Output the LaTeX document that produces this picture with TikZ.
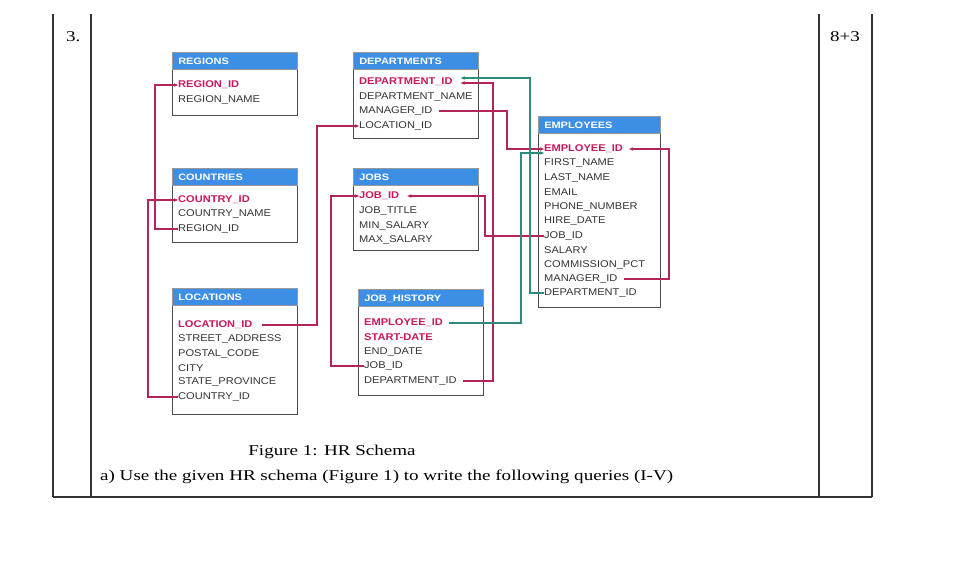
\documentclass[tikz,border=0pt]{standalone}
\usepackage{fontspec}
\setmainfont{Liberation Serif}[FakeStretch=1.27]
\newfontfamily\arl{Liberation Sans}[FakeStretch=1.13]
\newfontfamily\arlh{Liberation Sans}[FakeStretch=1.18]
\usetikzlibrary{arrows.meta,calc}
\definecolor{crim}{HTML}{B3245A}
\definecolor{tealc}{HTML}{2E8B7C}
\definecolor{hdrb}{HTML}{3D8FE6}
\definecolor{keyc}{HTML}{C8185E}
\tikzset{
 tbox/.style={draw=black!70,line width=0.8pt,anchor=north west,inner sep=0,fill=white},
 hdr/.style={fill=hdrb,draw=black!40,line width=0.5pt,anchor=north west,inner ysep=0,inner xsep=6pt,text=white,font=\arlh\bfseries\fontsize{9.3}{10}\selectfont,align=left,text depth=0pt},
 fld/.style={anchor=west,inner sep=0,font=\arl\fontsize{9.8}{10}\selectfont,text=black!80},
 key/.style={fld,text=keyc,font=\arl\bfseries\fontsize{9.8}{10}\selectfont},
 rel/.style={draw=crim,line width=1.1pt,-{Stealth[length=4pt,width=3.5pt]}},
 relt/.style={draw=tealc,line width=1.1pt,-{Stealth[length=4pt,width=3.5pt]}},
 frm/.style={line width=1.3pt,black!80},
 captxt/.style={anchor=base west,inner sep=0,font=\fontsize{15}{17}\selectfont}
}
\newcommand{\tbl}[6]{% name x y w h title
 \node[tbox,minimum width=#4,minimum height=#5] (#1) at (#2,#3) {};
 \node[hdr,minimum width=#4,minimum height=17,text width=#4-12pt] (#1H) at (#2,#3) {#6};}
\begin{document}
\begin{tikzpicture}[x=1pt,y=-1pt]
\useasboundingbox (0,0) rectangle (965,584);
% frame
\draw[frm] (53,14) coordinate (fa) -- (53,497) coordinate (fb);
\draw[frm] (91,14) -- (91,497);
\draw[frm] (819,14) -- (819,497);
\draw[frm] (872,14) -- (872,497);
\draw[frm] (fb) -- (872,497);
\node[captxt] (qno) at (66,41) {3.};
\node[captxt] (mk) at (830,41) {8+3};
\node[anchor=base,inner sep=0,font=\fontsize{15}{17}\selectfont] (fig) at (332,455) {Figure 1: HR Schema};
\node[captxt] (qa) at (100,480) {a) Use the given HR schema (Figure 1) to write the following queries (I-V)};
% tables
\tbl{reg}{172}{52}{125}{63}{REGIONS}
\tbl{dep}{353}{52}{125}{86}{DEPARTMENTS}
\tbl{cou}{172}{168}{125}{74}{COUNTRIES}
\tbl{job}{353}{168}{125}{82}{JOBS}
\tbl{loc}{172}{288}{125}{126}{LOCATIONS}
\tbl{jh}{358}{289}{125}{106}{JOB\_HISTORY}
\tbl{emp}{538}{116}{122}{191}{EMPLOYEES}
% fields
\node[key] (rid) at (178,85) {REGION\_ID};
\node[fld] (rname) at (178,100) {REGION\_NAME};
\node[key] (did) at (359,82) {DEPARTMENT\_ID};
\node[fld] (dname) at (359,97) {DEPARTMENT\_NAME};
\node[fld] (dmgr) at (359,111) {MANAGER\_ID};
\node[fld] (dloc) at (359,126) {LOCATION\_ID};
\node[key] (cid) at (178,200) {COUNTRY\_ID};
\node[fld] (cname) at (178,214) {COUNTRY\_NAME};
\node[fld] (creg) at (178,229) {REGION\_ID};
\node[key] (jid) at (359,196) {JOB\_ID};
\node[fld] (jt) at (359,211) {JOB\_TITLE};
\node[fld] (jmin) at (359,226) {MIN\_SALARY};
\node[fld] (jmax) at (359,240) {MAX\_SALARY};
\node[key] (lid) at (178,325) {LOCATION\_ID};
\node[fld] (lsa) at (178,339) {STREET\_ADDRESS};
\node[fld] (lpc) at (178,354) {POSTAL\_CODE};
\node[fld] (lcity) at (178,368) {CITY};
\node[fld] (lsp) at (178,382) {STATE\_PROVINCE};
\node[fld] (lcid) at (178,397) {COUNTRY\_ID};
\node[key] (hemp) at (364,323) {EMPLOYEE\_ID};
\node[key] (hsd) at (364,337) {START-DATE};
\node[fld] (hed) at (364,352) {END\_DATE};
\node[fld] (hjob) at (364,366) {JOB\_ID};
\node[fld] (hdep) at (364,381) {DEPARTMENT\_ID};
\node[key] (eid) at (544,149) {EMPLOYEE\_ID};
\node[fld] (efn) at (544,163) {FIRST\_NAME};
\node[fld] (eln) at (544,178) {LAST\_NAME};
\node[fld] (eem) at (544,192) {EMAIL};
\node[fld] (eph) at (544,207) {PHONE\_NUMBER};
\node[fld] (ehd) at (544,221) {HIRE\_DATE};
\node[fld] (ejob) at (544,236) {JOB\_ID};
\node[fld] (esal) at (544,250) {SALARY};
\node[fld] (ecom) at (544,265) {COMMISSION\_PCT};
\node[fld] (emgr) at (544,279) {MANAGER\_ID};
\node[fld] (edep) at (544,293) {DEPARTMENT\_ID};
% connectors
\draw[rel] (creg.west) -- (155,229) -- (155,85) -- (rid.west);
\draw[rel] (lcid.west) -- (148,397) -- (148,200) -- (cid.west);
\draw[rel] ($(lid.east)+(9,0)$) -- (317,325) -- (317,126) -- (dloc.west);
\draw[rel] (hjob.west) -- (331,366) -- (331,196) -- (jid.west);
\draw[rel] (ejob.west) -- (485,236) -- (485,196) -- ($(jid.east)+(8,0)$);
\draw[rel] ($(dmgr.east)+(6,0)$) -- (507,111) -- (507,149) -- (eid.west);
\draw[rel] ($(emgr.east)+(6,0)$) -- (669,279) -- (669,149) -- ($(eid.east)+(6,0)$);
\draw[rel] ($(hdep.east)+(6,0)$) -- (493,381) -- (493,83) -- ($(did.east)+(8,1)$);
\draw[relt] (edep.west) -- (530,293) -- (530,78) -- ($(did.east)+(8,-4)$);
\draw[relt] ($(hemp.east)+(6,0)$) -- (521,323) -- (521,153) -- ($(eid.west)+(0,4)$);
\end{tikzpicture}
\end{document}
